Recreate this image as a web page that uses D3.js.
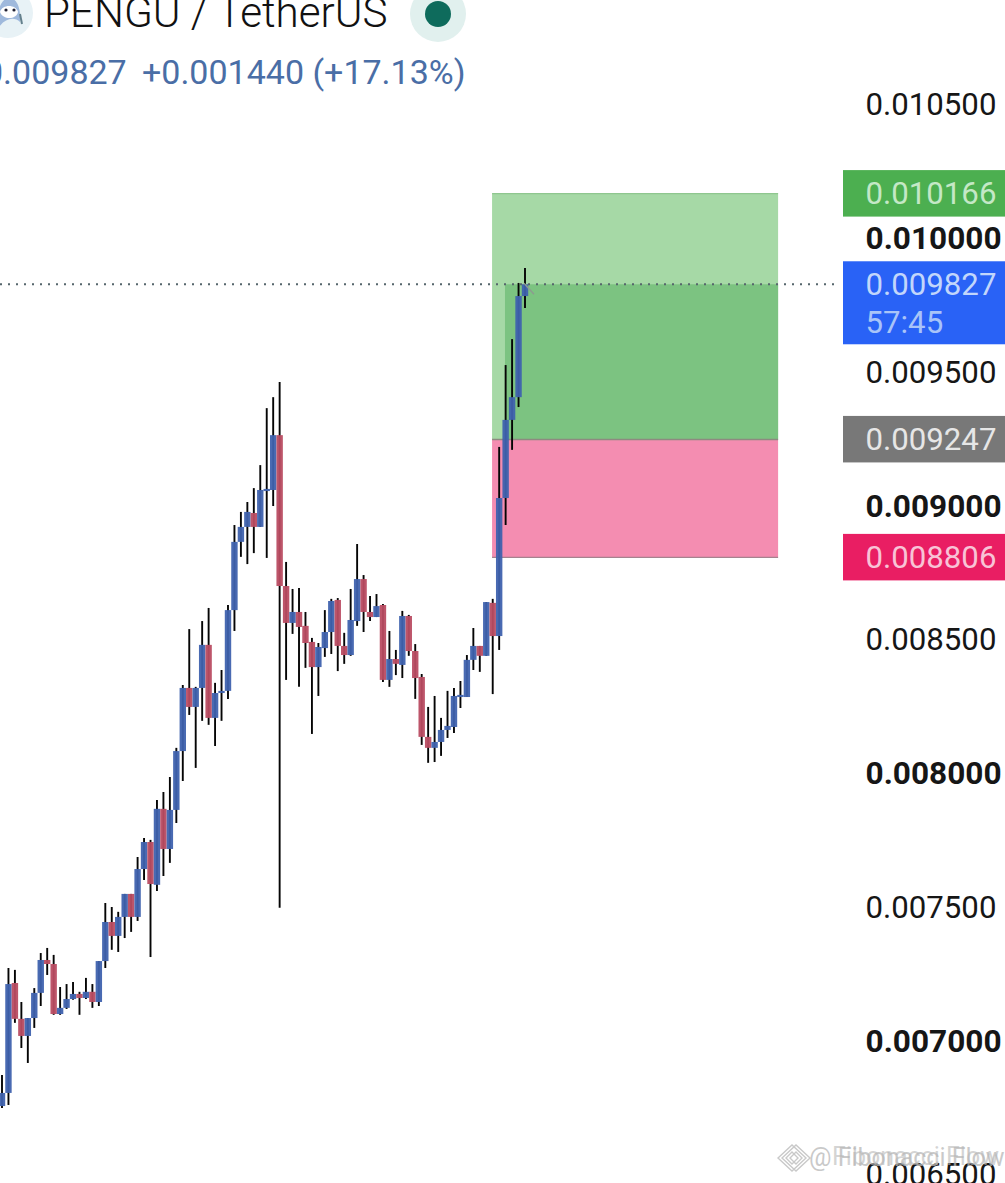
<!DOCTYPE html>
<html>
<head>
<meta charset="utf-8">
<script src="https://cdn.jsdelivr.net/npm/d3@7"></script>
<style>
html,body{margin:0;padding:0;background:#fff;overflow:hidden}
svg{display:block}
text{font-family:Roboto,sans-serif}
</style>
</head>
<body>
<svg id="chart" width="1005" height="1183"></svg>
<script>
// Candle values (prices in USDT)
const opens = [0.006755,0.006804,0.007215,0.007081,0.007017,0.007084,0.007178,0.007301,0.007286,0.007099,0.007122,0.007155,0.007174,0.007159,0.007182,0.007144,0.007297,0.007443,0.007391,0.007462,0.007548,0.007462,0.007641,0.007742,0.007582,0.007866,0.007716,0.007862,0.008082,0.008318,0.008247,0.008318,0.008479,0.008206,0.008299,0.008307,0.008609,0.008864,0.008920,0.008972,0.008920,0.009054,0.009058,0.009263,0.008699,0.008561,0.008602,0.008550,0.008490,0.008396,0.008467,0.008527,0.008647,0.008475,0.008441,0.008568,0.008725,0.008602,0.008583,0.008628,0.008348,0.008426,0.008404,0.008587,0.008456,0.008359,0.008135,0.008094,0.008116,0.008161,0.008172,0.008284,0.008284,0.008423,0.008475,0.008438,0.008636,0.008512,0.009028,0.009320,0.009405,0.009783];
const closes = [0.006804,0.007211,0.007081,0.007017,0.007084,0.007178,0.007301,0.007286,0.007099,0.007122,0.007155,0.007174,0.007159,0.007182,0.007144,0.007297,0.007443,0.007391,0.007462,0.007548,0.007462,0.007641,0.007742,0.007585,0.007866,0.007716,0.007862,0.008082,0.008318,0.008247,0.008318,0.008479,0.008206,0.008299,0.008307,0.008609,0.008864,0.008920,0.008976,0.008920,0.009058,0.009062,0.009263,0.008699,0.008561,0.008602,0.008546,0.008486,0.008396,0.008471,0.008527,0.008643,0.008475,0.008441,0.008572,0.008725,0.008602,0.008583,0.008624,0.008348,0.008426,0.008408,0.008587,0.008456,0.008355,0.008135,0.008094,0.008116,0.008161,0.008176,0.008288,0.008292,0.008423,0.008475,0.008438,0.008639,0.008512,0.009028,0.009320,0.009405,0.009783,0.009827];
const highs = [0.006871,0.007271,0.007264,0.007144,0.007084,0.007196,0.007327,0.007346,0.007320,0.007200,0.007211,0.007219,0.007182,0.007234,0.007211,0.007297,0.007514,0.007499,0.007481,0.007548,0.007548,0.007686,0.007757,0.007750,0.007899,0.007929,0.007985,0.008094,0.008329,0.008538,0.008322,0.008568,0.008617,0.008337,0.008385,0.008628,0.008927,0.008976,0.009013,0.009065,0.009151,0.009364,0.009405,0.009462,0.008789,0.008688,0.008692,0.008602,0.008505,0.008486,0.008609,0.008651,0.008654,0.008524,0.008688,0.008856,0.008740,0.008662,0.008669,0.008632,0.008531,0.008460,0.008606,0.008591,0.008482,0.008370,0.008247,0.008288,0.008206,0.008307,0.008318,0.008344,0.008441,0.008542,0.008475,0.008639,0.008651,0.009219,0.009525,0.009622,0.009832,0.009888];
const lows = [0.006748,0.006759,0.007066,0.006972,0.006916,0.007047,0.007129,0.007245,0.007096,0.007096,0.007118,0.007152,0.007096,0.007155,0.007122,0.007129,0.007271,0.007339,0.007331,0.007383,0.007406,0.007447,0.007600,0.007312,0.007559,0.007615,0.007664,0.007813,0.007970,0.008217,0.008019,0.008195,0.008180,0.008101,0.008195,0.008277,0.008531,0.008808,0.008781,0.008822,0.008920,0.008804,0.008998,0.007496,0.008348,0.008520,0.008322,0.008393,0.008146,0.008288,0.008434,0.008445,0.008381,0.008408,0.008438,0.008550,0.008527,0.008568,0.008583,0.008340,0.008322,0.008366,0.008355,0.008438,0.008277,0.008105,0.008038,0.008041,0.008064,0.008131,0.008150,0.008243,0.008284,0.008385,0.008378,0.008438,0.008295,0.008460,0.008927,0.009208,0.009368,0.009738];

// Price axis
const tickValues = [0.0105,0.0100,0.0095,0.0090,0.0085,0.0080,0.0075,0.0070,0.0065];
const boldTicks = [0.0100,0.0090,0.0080,0.0070];

// Position tool and price tags
const targetPrice = 0.010166, entryPrice = 0.009247, stopPrice = 0.008806, lastPrice = 0.009827;
const toolStartIdx = 75.9, toolEndIdx = 120.2, fillStartIdx = 77.9;
const tagPrices = [targetPrice, entryPrice, stopPrice];
const tagColors = ["#4caf50","#787878","#e91e63"];
const tagTextColors = ["#c4e8c6","#e6e6e6","#f8c3d6"];

const svg = d3.select("#chart");
const x = d3.scaleLinear().domain([0,81]).range([2,525]);
const y = d3.scaleLinear().domain([0.0105,0.0065]).range([104.25,1174.25]);

const fmt = d3.format(".6f");
const AXIS_X = 865.5;
const AXIS_SIZE = 31.2;

// Position tool
const toolL = x(toolStartIdx), toolW = x(toolEndIdx)-toolL;
svg.append("rect").attr("x",toolL).attr("y",y(targetPrice)).attr("width",toolW)
  .attr("height",y(entryPrice)-y(targetPrice)).attr("fill","#a6d9a6");
svg.append("rect").attr("x",x(fillStartIdx)).attr("y",y(lastPrice)).attr("width",x(toolEndIdx)-x(fillStartIdx))
  .attr("height",y(entryPrice)-y(lastPrice)).attr("fill","#7cc381");
svg.append("rect").attr("x",toolL).attr("y",y(entryPrice)).attr("width",toolW)
  .attr("height",y(stopPrice)-y(entryPrice)).attr("fill","#f48db1");
[[targetPrice,"#8fc78f"],[entryPrice,"#8d8a80"],[stopPrice,"#a5838f"]].forEach(([p,c])=>{
  svg.append("line").attr("x1",toolL).attr("x2",toolL+toolW).attr("y1",y(p)).attr("y2",y(p))
    .attr("stroke",c).attr("stroke-width",1.4);
});

// Last price line
svg.append("line").attr("x1",0).attr("x2",838).attr("y1",y(lastPrice)).attr("y2",y(lastPrice))
  .attr("stroke","#56666c").attr("stroke-width",2).attr("stroke-dasharray","2 6");

// Candles
const idx = d3.range(opens.length);
const candles = svg.append("g");
candles.selectAll("line.wick").data(idx).join("line").attr("class","wick")
  .attr("x1",i=>x(i)).attr("x2",i=>x(i)).attr("y1",i=>y(highs[i])).attr("y2",i=>y(lows[i]))
  .attr("stroke","#050505").attr("stroke-width",1.9);
candles.selectAll("rect.body").data(idx).join("rect").attr("class","body")
  .attr("x",i=>x(i)-3.2).attr("width",6.4)
  .attr("y",i=>y(Math.max(opens[i],closes[i])))
  .attr("height",i=>Math.max(1.5,Math.abs(y(opens[i])-y(closes[i]))))
  .attr("fill",i=>closes[i]>=opens[i]?"#3f62ae":"#b94c62")
  .attr("fill-opacity",.95);

// Small cross marker beside the last candle
svg.append("path").attr("d",`M${x(81)-1},${y(lastPrice)-1}L${x(81)+9},${y(lastPrice)+10}`)
  .attr("stroke","#8d9a90").attr("stroke-width",1.4).attr("fill","none");

// Price axis
const axis = d3.axisRight(y).tickValues(tickValues).tickFormat(fmt).tickSize(0).tickPadding(0);
const axG = svg.append("g").attr("transform",`translate(${AXIS_X},0)`).call(axis);
axG.select(".domain").remove();
axG.selectAll("text").attr("font-size",d=>boldTicks.includes(d)?31.6:AXIS_SIZE).attr("fill","#161616").attr("dy","0.34em")
  .attr("font-family","Roboto,sans-serif")
  .attr("font-weight",d=>boldTicks.includes(d)?700:400);

// Price tags
tagPrices.forEach((p,k)=>{
  svg.append("rect").attr("x",843).attr("width",162).attr("y",y(p)-23.5).attr("height",46.5).attr("fill",tagColors[k]);
  svg.append("text").attr("x",AXIS_X).attr("y",y(p)).attr("dy","0.34em").attr("font-size",AXIS_SIZE)
    .attr("fill",tagTextColors[k]).text(fmt(p));
});
svg.append("rect").attr("x",843).attr("width",162).attr("y",y(lastPrice)-23).attr("height",83).attr("fill","#2962f6");
svg.append("text").attr("x",AXIS_X).attr("y",y(lastPrice)).attr("dy","0.34em").attr("font-size",AXIS_SIZE)
  .attr("fill","#c2d6fb").text(fmt(lastPrice));
svg.append("text").attr("x",AXIS_X).attr("y",y(lastPrice)+49).attr("font-size",AXIS_SIZE)
  .attr("fill","#a9c4f8").text("57:45");

// Header
const logo = svg.append("g");
logo.append("circle").attr("cx",8).attr("cy",13).attr("r",25).attr("fill","#e8f2f6");
logo.append("path").attr("d","M-3,30C-4,12 1,-2 9,-2C17,-2 21,8 20,22C14,16 4,18 -3,30Z").attr("fill","#9fb9dc");
logo.append("path").attr("d","M0,12C2,4 16,4 18,12C16,20 3,20 0,12Z").attr("fill","#fff");
logo.append("circle").attr("cx",6).attr("cy",10).attr("r",1.6).attr("fill","#223");
logo.append("circle").attr("cx",14).attr("cy",10).attr("r",1.6).attr("fill","#223");
logo.append("path").attr("d","M20,14L22,24").attr("stroke","#64808c").attr("stroke-width",2);

svg.append("text").attr("x",44).attr("y",27).attr("font-size",42.2).attr("font-weight",300)
  .attr("fill","#111").text("PENGU / TetherUS");
svg.append("circle").attr("cx",438).attr("cy",14).attr("r",28).attr("fill","#e1f0ee");
svg.append("circle").attr("cx",438).attr("cy",14).attr("r",13).attr("fill","#0e6b5c");

svg.append("text").attr("x",-16).attr("y",84).attr("font-size",34).attr("fill","#4a6ea6").text(fmt(lastPrice));
svg.append("text").attr("x",142).attr("y",84).attr("font-size",34).attr("fill","#4a6ea6").text("+0.001440 (+17.13%)");

// Watermark
const wm = svg.append("g").attr("fill","none").attr("stroke","#c9c9c9").attr("stroke-width",1.4);
[[792,1158],[796,1158]].forEach(([cx,cy])=>{
  wm.append("path").attr("d",`M${cx-14},${cy}L${cx},${cy-13}L${cx+14},${cy}L${cx},${cy+13}Z`);
  wm.append("path").attr("d",`M${cx-6},${cy}L${cx},${cy-6}L${cx+6},${cy}L${cx},${cy+6}Z`);
});
svg.append("text").attr("x",809).attr("y",1166).attr("font-size",25).attr("fill","#b8b8b8").attr("fill-opacity",.75)
  .text("@ Fibonacci Flow");
svg.append("text").attr("x",832).attr("y",1165).attr("font-size",25).attr("fill","#b8b8b8").attr("fill-opacity",.6)
  .text("Fibonacci Flow");
</script>
</body>
</html>
